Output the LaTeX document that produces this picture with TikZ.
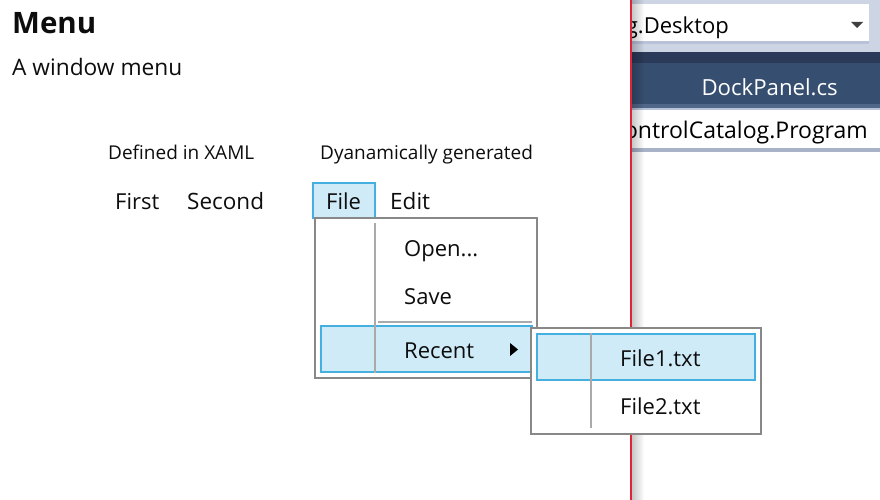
\documentclass[tikz,border=0pt]{standalone}
\usepackage{fontspec}
\setmainfont{Open Sans}
\usetikzlibrary{fadings}
\definecolor{hiFill}{HTML}{D0EBF8}
\definecolor{hiLine}{HTML}{45B0E0}
\definecolor{popLine}{HTML}{888888}
\definecolor{sepLine}{HTML}{AAAAAA}
\definecolor{redLine}{HTML}{E02438}
\definecolor{paleBlue}{HTML}{CDD5E5}
\definecolor{comboEdge}{HTML}{B8C2D8}
\definecolor{darkBand}{HTML}{2B3A58}
\definecolor{tabBand}{HTML}{364E70}
\definecolor{tabEdge}{HTML}{51678A}
\definecolor{barEdge}{HTML}{A9B3C8}
\tikzset{
  lbl/.style={inner sep=0pt,anchor=base west,text=black!95,font=\fontsize{#1}{#1}\selectfont},
  lblr/.style={inner sep=0pt,anchor=base east,text=black,font=\fontsize{#1}{#1}\selectfont},
  hibox/.style={draw=hiLine,fill=hiFill,line width=2pt},
  popbox/.style={draw=popLine,fill=white,line width=2pt},
  sep/.style={draw=sepLine,line width=2pt}
}
\begin{document}
\begin{tikzpicture}[x=1pt,y=-1pt]
\useasboundingbox (0,0) rectangle (880,500);
% right-hand window behind
\fill[white] (0,0) rectangle (880,500);
\fill[paleBlue] (600,0) rectangle (880,52);
\fill[white] (600,4) rectangle (869,41);
\fill[comboEdge] (600,41) rectangle (869,44);
\fill[darkBand] (600,52) rectangle (880,63);
\fill[tabBand] (600,63) rectangle (880,104);
\fill[tabEdge] (600,104) rectangle (880,108);
\fill[comboEdge] (600,108) rectangle (880,110);
\fill[white] (600,110) rectangle (880,148);
\fill[barEdge] (600,148) rectangle (880,152);
\node[lblr=22] (desk) at (729,34) {g.Desktop};
\fill[black!75] (851,22) -- (863,22) -- (857,28) -- cycle;
\node[lblr=22.2,text=white] (dock) at (838,96) {DockPanel.cs};
\node[lblr=23] (prog) at (868,139) {ControlCatalog.Program};
% main window
\fill[white] (0,0) rectangle (630,500);
\fill[black,opacity=.22,path fading=east] (632,0) rectangle (644,500);
\fill[redLine] (630,0) rectangle (632,500);
\node[lbl=29.5,font=\fontsize{29.5}{29.5}\selectfont\bfseries] (title) at (12,34) {Menu};
\node[lbl=22.7] (sub) at (12,76) {A window menu};
\node[lbl=19] (cap1) at (108,159) {Defined in XAML};
\node[lbl=19] (cap2) at (320,159) {Dyanamically generated};
\node[lbl=22] (first) at (115,209) {First};
\node[lbl=22.5] (second) at (187,209) {Second};
\draw[hibox] (313,182.5) rectangle (375,218);
\node[lbl=22] (file) at (326,209) {File};
\node[lbl=22.5] (edit) at (390,209) {Edit};
% first popup
\draw[popbox] (315,218) rectangle (537,378);
\draw[sep] (378,322) -- (532,322);
\draw[hibox] (321,326) rectangle (532,372);
\draw[sep] (375,223) -- (375,373);
\node[lbl=22] (open) at (404,256.5) {Open...};
\node[lbl=22] (save) at (404,304) {Save};
\node[lbl=22] (recent) at (404,358) {Recent};
\fill[black] (510,343) -- (518,349.5) -- (510,356) -- cycle;
% submenu
\draw[popbox] (531,328) rectangle (761,434);
\draw[hibox] (537,334) rectangle (755,380);
\draw[sep] (591,333) -- (591,428);
\node[lbl=22] (f1) at (620,366) {File1.txt};
\node[lbl=22] (f2) at (620,414) {File2.txt};
\end{tikzpicture}
\end{document}
